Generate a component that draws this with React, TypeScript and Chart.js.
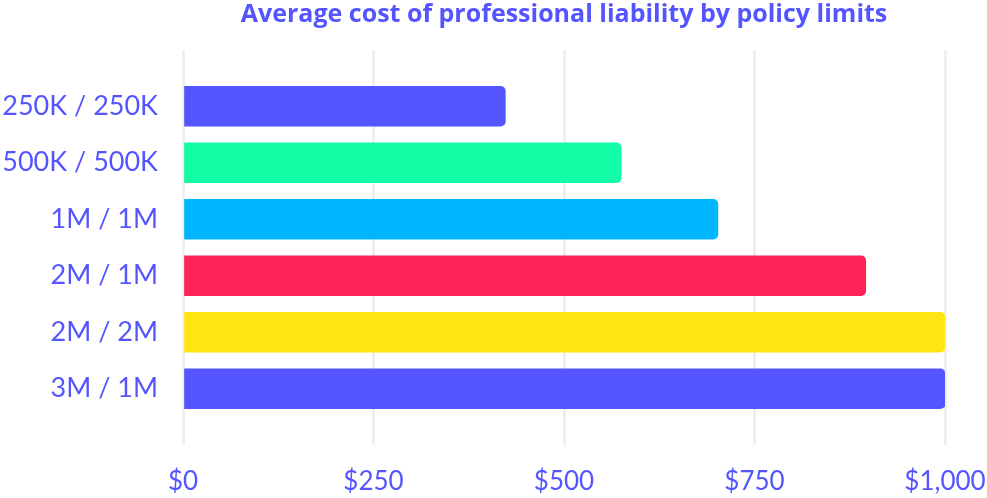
import React, { useEffect, useRef } from "react";
import { Chart, registerables } from "chart.js";

Chart.register(...registerables);

const categories = ["250K / 250K", "500K / 500K", "1M / 1M", "2M / 1M", "2M / 2M", "3M / 1M"];
const costs = [423, 575, 702, 896, 1000, 1000];
const barColors = ["#5555ff", "#11fca5", "#00b7ff", "#fe2457", "#fee615", "#5555ff"];
const xTickValues = [0, 250, 500, 750, 1000];
const titleText = "Average cost of professional liability by policy limits";

const BLUE = "#5555ff";
const GRID = "#efefef";
const FONT = "Lato, 'Open Sans', sans-serif";

export default function App() {
  const ref = useRef<HTMLCanvasElement>(null);
  useEffect(() => {
    if (!ref.current) return;
    const chart = new Chart(ref.current, {
      type: "bar",
      data: {
        labels: categories,
        datasets: [
          {
            data: costs,
            backgroundColor: barColors,
            borderWidth: 0,
            borderRadius: 5,
            borderSkipped: "start",
            barThickness: 40,
          },
        ],
      },
      options: {
        indexAxis: "y",
        animation: false,
        responsive: false,
        maintainAspectRatio: false,
        layout: { padding: 0 },
        plugins: {
          legend: { display: false },
          tooltip: { enabled: false },
          title: {
            display: true,
            text: titleText,
            fullSize: false,
            color: BLUE,
            font: { family: "'Open Sans', Lato, sans-serif", size: 25, weight: "bold" },
            padding: { top: 0, bottom: 20 },
          },
        },
        scales: {
          x: {
            type: "linear",
            min: 0,
            max: 1000,
            afterBuildTicks: (axis: any) => {
              axis.ticks = xTickValues.map((v) => ({ value: v }));
            },
            afterFit: (axis: any) => {
              axis.height = 81;
              axis.paddingLeft = 0;
              axis.paddingRight = 42;
            },
            border: { display: false },
            grid: { color: GRID, lineWidth: 3, tickLength: 28, drawTicks: true },
            ticks: {
              color: BLUE,
              padding: 21,
              maxRotation: 0,
              font: { family: FONT, size: 26 },
              callback: (v: any) => "$" + Number(v).toLocaleString("en-US"),
            },
          },
          x2: {
            type: "linear",
            position: "top",
            min: 0,
            max: 1000,
            afterBuildTicks: (axis: any) => {
              axis.ticks = xTickValues.map((v) => ({ value: v }));
            },
            border: { display: false },
            grid: { color: GRID, lineWidth: 3, tickLength: 28, drawOnChartArea: false, drawTicks: true },
            ticks: { display: false },
          },
          y: {
            afterFit: (axis: any) => {
              axis.width = 183;
              axis.paddingTop = 0;
              axis.paddingBottom = 0;
            },
            border: { display: false },
            grid: { display: false },
            ticks: {
              color: BLUE,
              padding: 17,
              font: { family: FONT, size: 27 },
            },
          },
        },
      },
    });
    return () => chart.destroy();
  }, []);
  return (
    <div style={{ position: "absolute", left: 0, top: 0, width: 987, height: 498, background: "#fff" }}>
      <canvas ref={ref} width={987} height={498} style={{ display: "block" }} />
    </div>
  );
}
